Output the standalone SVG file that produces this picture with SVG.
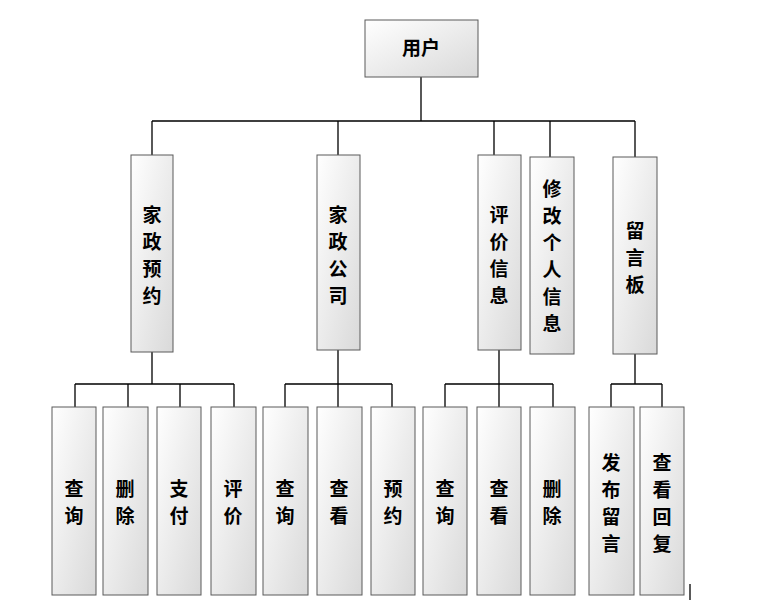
<svg xmlns="http://www.w3.org/2000/svg" width="781" height="601" viewBox="0 0 781 601">
<defs>
<linearGradient id="g" x1="0" y1="0" x2="1" y2="1">
<stop offset="0" stop-color="#ffffff"/><stop offset="1" stop-color="#d9d9d9"/>
</linearGradient>
</defs>
<style>
rect{fill:url(#g);stroke:#5a5a5a;stroke-width:1}
text{font-family:"Noto Sans CJK SC",sans-serif;font-size:19px;font-weight:bold;fill:#000;text-anchor:middle}
#conn line,#conn path{stroke:#000;stroke-width:1.3;fill:none}
</style>
<rect width="781" height="601" style="fill:#fff;stroke:none"/>
<g id="conn">
<path d="M421 77V121M152 121H635M152 121V155M338 121V155M494 121V155M550 121V157M635 121V157"/>
<path d="M152 352V384M75 384H234M75 384V407M128 384V407M180 384V407M234 384V407"/>
<path d="M338 350V384M285 384H392M285 384V407M338 384V407M392 384V407"/>
<path d="M499 350V384M445 384H553M445 384V407M499 384V407M553 384V407"/>
<path d="M635 354V384M611 384H662M611 384V407M662 384V407"/>
<line x1="690" y1="584" x2="690" y2="600"/>
</g>
<g id="n0"><rect x="365" y="20" width="113" height="57"/><text x="421" y="55">用户</text></g>
<g id="n1"><rect x="131" y="155" width="42" height="197"/><text x="152" y="222"><tspan x="152">家</tspan><tspan x="152" dy="27">政</tspan><tspan x="152" dy="27">预</tspan><tspan x="152" dy="27">约</tspan></text></g>
<g id="n2"><rect x="317" y="155" width="43" height="195"/><text x="338" y="222"><tspan x="338">家</tspan><tspan x="338" dy="27">政</tspan><tspan x="338" dy="27">公</tspan><tspan x="338" dy="27">司</tspan></text></g>
<g id="n3"><rect x="478" y="155" width="43" height="195"/><text x="499" y="222"><tspan x="499">评</tspan><tspan x="499" dy="27">价</tspan><tspan x="499" dy="27">信</tspan><tspan x="499" dy="27">息</tspan></text></g>
<g id="n4"><rect x="530" y="157" width="44" height="197"/><text x="552" y="196"><tspan x="552">修</tspan><tspan x="552" dy="27">改</tspan><tspan x="552" dy="27">个</tspan><tspan x="552" dy="27">人</tspan><tspan x="552" dy="27">信</tspan><tspan x="552" dy="27">息</tspan></text></g>
<g id="n5"><rect x="613" y="157" width="44" height="197"/><text x="635" y="238"><tspan x="635">留</tspan><tspan x="635" dy="27">言</tspan><tspan x="635" dy="27">板</tspan></text></g>
<g id="a1"><rect x="52" y="407" width="44" height="188"/><text x="74" y="496"><tspan x="74">查</tspan><tspan x="74" dy="27">询</tspan></text></g>
<g id="a2"><rect x="103" y="407" width="45" height="188"/><text x="125" y="496"><tspan x="125">删</tspan><tspan x="125" dy="27">除</tspan></text></g>
<g id="a3"><rect x="157" y="407" width="44" height="188"/><text x="179" y="496"><tspan x="179">支</tspan><tspan x="179" dy="27">付</tspan></text></g>
<g id="a4"><rect x="211" y="407" width="45" height="188"/><text x="233" y="496"><tspan x="233">评</tspan><tspan x="233" dy="27">价</tspan></text></g>
<g id="b1"><rect x="263" y="407" width="45" height="188"/><text x="285" y="496"><tspan x="285">查</tspan><tspan x="285" dy="27">询</tspan></text></g>
<g id="b2"><rect x="317" y="407" width="45" height="188"/><text x="339" y="496"><tspan x="339">查</tspan><tspan x="339" dy="27">看</tspan></text></g>
<g id="b3"><rect x="371" y="407" width="44" height="188"/><text x="393" y="496"><tspan x="393">预</tspan><tspan x="393" dy="27">约</tspan></text></g>
<g id="c1"><rect x="423" y="407" width="44" height="188"/><text x="445" y="496"><tspan x="445">查</tspan><tspan x="445" dy="27">询</tspan></text></g>
<g id="c2"><rect x="477" y="407" width="44" height="188"/><text x="499" y="496"><tspan x="499">查</tspan><tspan x="499" dy="27">看</tspan></text></g>
<g id="c3"><rect x="530" y="407" width="45" height="188"/><text x="552" y="496"><tspan x="552">删</tspan><tspan x="552" dy="27">除</tspan></text></g>
<g id="d1"><rect x="589" y="407" width="45" height="188"/><text x="611" y="470"><tspan x="611">发</tspan><tspan x="611" dy="27">布</tspan><tspan x="611" dy="27">留</tspan><tspan x="611" dy="27">言</tspan></text></g>
<g id="d2"><rect x="640" y="407" width="44" height="188"/><text x="662" y="470"><tspan x="662">查</tspan><tspan x="662" dy="27">看</tspan><tspan x="662" dy="27">回</tspan><tspan x="662" dy="27">复</tspan></text></g>
</svg>
